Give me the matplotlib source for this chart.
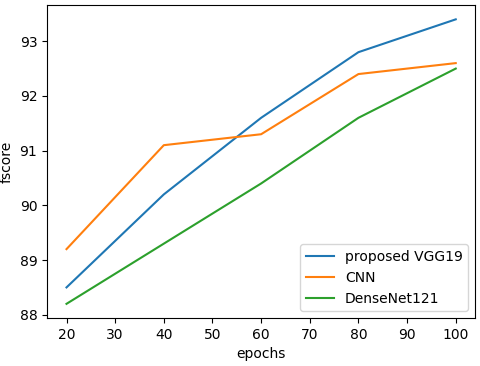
import matplotlib
matplotlib.use("Agg")
import matplotlib.pyplot as plt

epochs = [20, 40, 60, 80, 100]
vgg19 = [88.5, 90.2, 91.6, 92.8, 93.4]
cnn = [89.2, 91.1, 91.3, 92.4, 92.6]
densenet = [88.2, 89.3, 90.4, 91.6, 92.5]

fig = plt.figure(figsize=(4.8, 3.66), dpi=100)
ax = fig.add_axes([0.098, 0.131, 0.892, 0.855])
ax.plot(epochs, vgg19, label="proposed VGG19")
ax.plot(epochs, cnn, label="CNN")
ax.plot(epochs, densenet, label="DenseNet121")
ax.set_xlabel("epochs")
ax.set_ylabel("fscore")
ax.legend(loc="lower right")
fig.savefig("out.png", dpi=100)
